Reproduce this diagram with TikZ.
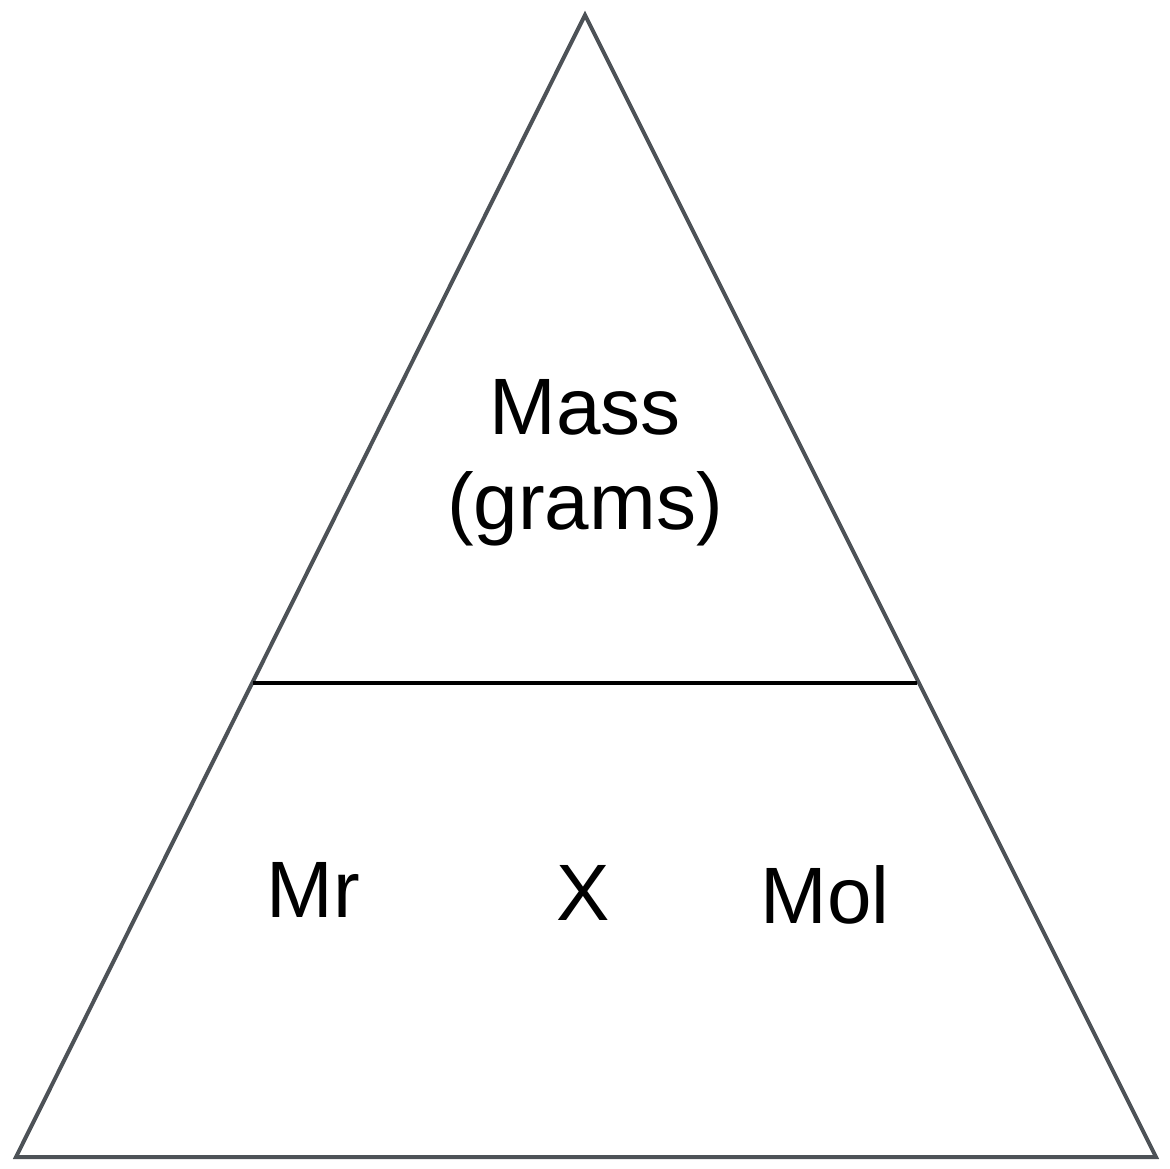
\documentclass[tikz,border=0pt]{standalone}
\usepackage{fontspec}
\setmainfont{Liberation Sans}
\definecolor{edge}{HTML}{4D5257}
\begin{document}
\begin{tikzpicture}[x=1pt,y=-1pt,
  lbl/.style={font=\fontsize{80}{95}\selectfont, inner sep=0pt, align=center}]
\useasboundingbox (0,0) rectangle (1170,1168);
\coordinate (top) at (585,15);
\coordinate (bl) at (16,1157);
\coordinate (br) at (1156,1157);
\draw[edge, line width=4pt, line join=miter] (top) -- (br) -- (bl) -- cycle;
\coordinate (ml) at (253,683);
\coordinate (mr) at (917,683);
\draw[black, line width=4pt] (ml) -- (mr);
\node[lbl] (mass) at (585,463) {Mass\\(grams)};
\node[lbl] (mrt) at (313,890) {Mr};
\node[lbl] (x) at (583,893) {X};
\node[lbl] (mol) at (825,895) {Mol};
\end{tikzpicture}
\end{document}
